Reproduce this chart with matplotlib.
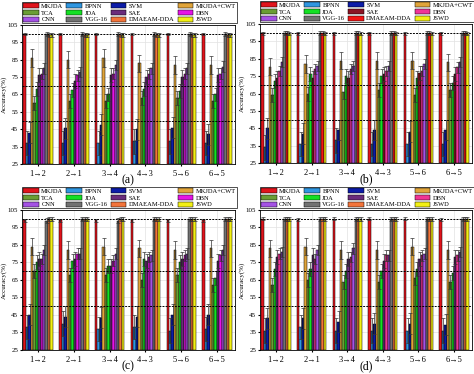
import matplotlib

matplotlib.use("Agg")
import matplotlib.pyplot as plt
import numpy as np

plt.rcParams["font.family"] = ["Liberation Serif", "DejaVu Serif"]

TASKS = ["1→2", "2→1", "3→4", "4→3", "5→6", "6→5"]
METHODS = ["MKJDA", "BPNN", "SVM", "MKJDA+CWT", "TCA", "JDA", "SAE", "DBN",
           "CNN", "VGG-16", "DMAEAM-DDA", "JSWD"]

# accuracy (%) per method (rows, same order as METHODS) and task (columns)
ACC_A = [
    [99.8, 99.8, 99.8, 99.8, 99.8, 99.8],
    [37, 37, 37, 38, 38, 37],
    [43, 45.5, 47.5, 45, 46, 42],
    [86, 85, 86, 83, 82, 82],
    [60, 61, 61, 63, 63, 61],
    [68, 67.5, 65, 68, 67, 65],
    [76, 73, 76, 75, 75, 76],
    [77, 76, 77, 77, 77, 77],
    [80, 78, 82, 80, 80, 81],
    [100, 100, 100, 100, 100, 100],
    [99.2, 99.2, 99.2, 99.2, 99.2, 99.2],
    [99.2, 99.2, 99.2, 99.2, 99.2, 99.2],
]
ACC_B = [
    [99.6, 99.6, 99.6, 99.6, 99.6, 99.6],
    [34, 36, 38, 36, 36, 36],
    [45, 42, 44, 44, 43, 44],
    [80.5, 82, 84, 84, 84, 83],
    [64, 65, 66, 67, 64, 67],
    [72, 76, 75, 75, 74, 71],
    [74, 74, 74, 76, 77, 76],
    [78, 79, 79, 78, 78, 80],
    [83, 81, 81, 81, 82, 83],
    [100, 100, 100, 100, 100, 100],
    [99.8, 99.8, 99.8, 99.8, 99.8, 99.8],
    [99.5, 99.5, 99.5, 99.5, 99.5, 99.5],
]
ACC_C = [
    [99.2, 99.2, 99.2, 99.2, 99.2, 99.2],
    [38, 40, 37, 38, 36, 37],
    [45, 44, 43.5, 44, 45, 45],
    [84, 82, 84, 83, 82, 83],
    [70, 68, 68, 65, 68, 62],
    [75, 76, 73, 77, 75, 66],
    [77, 77, 73, 76, 77, 76],
    [77, 80, 76, 78, 79, 79],
    [82, 80, 80, 79, 80, 82],
    [99, 100, 99, 100, 100, 100],
    [100, 100, 100, 100, 100, 100],
    [100, 100, 100, 100, 100, 100],
]
ACC_D = [
    [100, 99.5, 100, 100, 100, 99.5],
    [36, 38, 36, 36, 36, 36],
    [43, 43, 41, 40, 40, 39.5],
    [83, 84, 82, 82, 84, 82],
    [62, 65, 64, 64, 66, 64],
    [71, 71, 70, 70, 71, 69],
    [78, 79, 77, 76, 77, 78],
    [80, 77, 78, 79, 79, 79],
    [81, 82, 83, 79, 80, 81],
    [100, 100, 100, 100, 100, 100],
    [100, 100, 100, 100, 100, 100],
    [100, 100, 100, 100, 100, 100],
]
# std per method
ERR = [0.8, 7, 6, 5, 4, 4, 4, 3, 3, 1.2, 1.0, 1.0]

BASE_COLORS = ["#e0141c", "#2f96e0", "#0c1ca8", "#e0a43a", "#6a9e34", "#14e024",
               "#6a2c7c", "#e614e6", "#a452e4", "#727272", "#f2743a", "#f2f014"]
COLORS_B = BASE_COLORS[:6] + ["#8c1424", "#f03498", "#a452e4", "#727272", "#f21414", "#f2f014"]
COLORS_D = BASE_COLORS[:7] + ["#f03494"] + BASE_COLORS[8:]

PANELS = [
    ("(a)", ACC_A, BASE_COLORS, [0.0464, 0.5615, 0.449, 0.3717]),
    ("(b)", ACC_B, COLORS_B, [0.5485, 0.5640, 0.447, 0.3717]),
    ("(c)", ACC_C, BASE_COLORS, [0.0464, 0.0642, 0.449, 0.3743]),
    ("(d)", ACC_D, COLORS_D, [0.5485, 0.0642, 0.447, 0.3743]),
]

NCOL = 4


def draw_panel(fig, label, acc, colors, rect):
    ax = fig.add_axes(rect)
    x = np.arange(1, len(TASKS) + 1)
    n = len(METHODS)
    w = 0.82 / n
    ax.grid(True, color="#e2e2e2", lw=0.5)
    ax.set_axisbelow(True)
    handles = []
    for i, name in enumerate(METHODS):
        xi = x + (i - (n - 1) / 2) * w
        v = np.asarray(acc[i], dtype=float)
        e = ERR[i]
        h = ax.bar(xi, v - 25, bottom=25, width=w, color=colors[i], edgecolor="black",
                   lw=0.35, label=name, zorder=2)
        handles.append(h)
        # darker band inside bar top + whisker, like the original error bars
        ax.bar(xi, np.full_like(v, e), bottom=v - e, width=w * 0.8, color="black",
               alpha=0.35, lw=0, zorder=3)
        ax.errorbar(xi, v, yerr=e, fmt="none", ecolor="#333333", elinewidth=0.5,
                    capsize=1.2, capthick=0.5, zorder=4)
    for yl in (50, 70, 100):
        ax.axhline(yl, color="black", ls=(0, (2, 1.2)), lw=0.7, zorder=5)
    ax.set_xlim(0.55, 6.5)
    ax.set_ylim(25, 105)
    ax.set_yticks(np.arange(25, 106, 10))
    ax.set_xticks(x)
    ax.set_xticklabels(TASKS, fontsize=6)
    ax.tick_params(axis="y", labelsize=5, length=1.5, pad=1.2)
    ax.tick_params(axis="x", length=1.5, pad=2.5)
    ax.set_ylabel("Accuracy(%)", fontsize=5, labelpad=0.5)
    for s in ax.spines.values():
        s.set_linewidth(0.6)
    ax.text(0.5, -0.118, label, transform=ax.transAxes, ha="center", va="center", fontsize=8.5)

    # legend filled row by row (matplotlib fills columns, so reorder)
    nrow = int(np.ceil(n / NCOL))
    order = [r * NCOL + c for c in range(NCOL) for r in range(nrow)]
    leg = ax.legend([handles[k] for k in order], [METHODS[k] for k in order],
                    ncol=NCOL, loc="lower left", bbox_to_anchor=(0.0, 1.012, 1.01, 0.15),
                    mode="expand", borderaxespad=0, fontsize=4.7, handlelength=2.4,
                    handleheight=0.8, handletextpad=0.4, labelspacing=0.15,
                    borderpad=0.15, columnspacing=0.5, fancybox=False, edgecolor="black")
    leg.get_frame().set_linewidth(0.6)
    return ax


fig = plt.figure(figsize=(4.74, 3.74), dpi=100)
for label, acc, colors, rect in PANELS:
    draw_panel(fig, label, acc, colors, rect)
fig.savefig("out.png", dpi=100)
